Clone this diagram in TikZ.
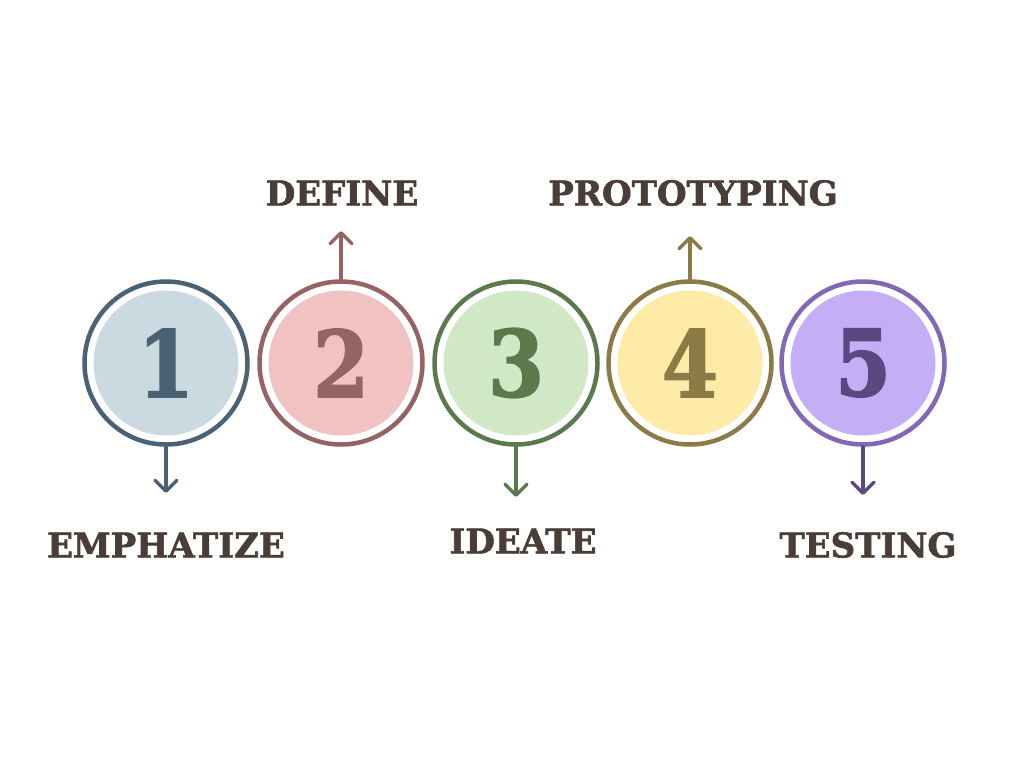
\documentclass[tikz,border=0pt]{standalone}
\usepackage{fontspec}
\setmainfont{DejaVu Serif}
\newfontfamily\heavy{DejaVu Serif}[UprightFont=*, BoldFont=* Bold, BoldFeatures={FakeBold=1.8}]
\usetikzlibrary{arrows.meta}
\definecolor{txt}{HTML}{4A3C37}
\definecolor{ringA}{HTML}{4A6274}\definecolor{fillA}{HTML}{CBD9E1}\definecolor{digA}{HTML}{486173}
\definecolor{ringB}{HTML}{956363}\definecolor{fillB}{HTML}{F0C2C2}\definecolor{digB}{HTML}{956363}
\definecolor{ringC}{HTML}{5A7A4E}\definecolor{fillC}{HTML}{D0E8C5}\definecolor{digC}{HTML}{5A7A4E}
\definecolor{ringD}{HTML}{8C7B47}\definecolor{fillD}{HTML}{FFEBA8}\definecolor{digD}{HTML}{8C7B47}
\definecolor{ringE}{HTML}{8268B4}\definecolor{fillE}{HTML}{C5AEF5}\definecolor{digE}{HTML}{5A4880}
\tikzset{
  ringnode/.style={circle,draw=#1,line width=4.5pt,minimum size=163pt,inner sep=0pt},
  disc/.style={circle,fill=#1,minimum size=145pt,inner sep=0pt},
  digit/.style={text=#1,font=\fontsize{92}{92}\heavy\bfseries},
  lab/.style={text=txt,font=\fontsize{34}{34}\heavy\bfseries,inner sep=0pt},
  arr/.style={draw=#1,line width=3.5pt,line cap=round,-{Straight Barb[length=11pt,width=22pt,round]}}
}
\newcommand{\dig}[1]{\scalebox{0.88}[1]{#1}}
\begin{document}
\begin{tikzpicture}[x=1pt,y=-1pt]
\useasboundingbox (0,0) rectangle (1024,768);
% circles
\node[ringnode=ringA] (c1) at (166,363) {};
\node[ringnode=ringB] (c2) at (341,363) {};
\node[ringnode=ringC] (c3) at (516,363) {};
\node[ringnode=ringD] (c4) at (690,363) {};
\node[ringnode=ringE] (c5) at (863,363) {};
\node[disc=fillA,digit=digA] (d1) at (c1) {\dig{1}};
\node[disc=fillB,digit=digB] (d2) at (c2) {\dig{2}};
\node[disc=fillC,digit=digC] (d3) at (c3) {\dig{3}};
\node[disc=fillD,digit=digD] (d4) at (c4) {\dig{4}};
\node[disc=fillE,digit=digE] (d5) at (c5) {\dig{5}};
% labels
\node[lab] (l1) at (166,545) {EMPHATIZE};
\node[lab] (l2) at (342,193) {DEFINE};
\node[lab] (l3) at (523,541) {IDEATE};
\node[lab] (l4) at (693,193) {PROTOTYPING};
\node[lab] (l5) at (868,545) {TESTING};
% arrow ends
\coordinate (a1) at (166,493);
\coordinate (a2) at (341,231);
\coordinate (a3) at (516,497);
\coordinate (a4) at (690,236);
\coordinate (a5) at (863,495);
\draw[arr=ringA] (c1.south) -- (a1);
\draw[arr=ringB] (c2.north) -- (a2);
\draw[arr=ringC] (c3.south) -- (a3);
\draw[arr=ringD] (c4.north) -- (a4);
\draw[arr=digE] (c5.south) -- (a5);
\end{tikzpicture}
\end{document}
